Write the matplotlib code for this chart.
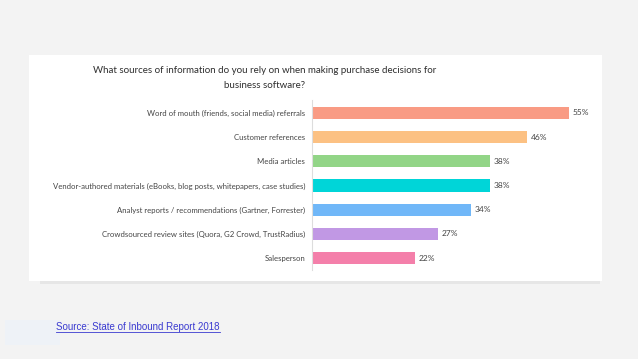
import matplotlib
matplotlib.use("Agg")
import matplotlib.pyplot as plt
from matplotlib.patches import Rectangle

categories = [
    "Word of mouth (friends, social media) referrals",
    "Customer references",
    "Media articles",
    "Vendor-authored materials (eBooks, blog posts, whitepapers, case studies)",
    "Analyst reports / recommendations (Gartner, Forrester)",
    "Crowdsourced review sites (Quora, G2 Crowd, TrustRadius)",
    "Salesperson",
]
values = [55, 46, 38, 38, 34, 27, 22]
value_labels = ["55%", "46%", "38%", "38%", "34%", "27%", "22%"]
colors = ["#f99b84", "#fcc183", "#92d587", "#00d5d8", "#70b7f8", "#c198e4", "#f47faa"]
title = "What sources of information do you rely on when making purchase decisions for\nbusiness software?"
source = "Source: State of Inbound Report 2018"

W, H = 638, 359
fig = plt.figure(figsize=(W / 100, H / 100), dpi=100)
fig.patch.set_facecolor("#f3f3f3")

def fx(px):
    return px / W

def fy(py):
    return 1 - py / H

# white panel with faint shadow
fig.patches.append(Rectangle((fx(40), fy(284)), fx(560), 3 / H, transform=fig.transFigure,
                             facecolor="#e6e6e6", edgecolor="none", zorder=-2))
fig.patches.append(Rectangle((fx(29), fy(281)), fx(573), 226 / H, transform=fig.transFigure,
                             facecolor="white", edgecolor="none", zorder=-1))
# faint box near source
fig.patches.append(Rectangle((fx(5), fy(345)), fx(55), 25 / H, transform=fig.transFigure,
                             facecolor="#eef2f7", edgecolor="none", zorder=-1))

fig.text(fx(265), fy(78), title, ha="center", va="center", fontsize=7.0,
         family="Lato", color="#2e2e2e", linespacing=1.85)

# axes: x from 312 to 600 px; y from 100 to 270 px
px_per_unit = (569 - 312) / 55.0
ax_left, ax_right = 312, 600
ax = fig.add_axes([fx(ax_left), fy(270), fx(ax_right - ax_left), 170 / H])
ax.set_facecolor("none")
ypos = list(range(len(categories)))
ax.barh(ypos, values, height=0.5, color=colors)
ax.set_xlim(0, (ax_right - ax_left) / px_per_unit)
ax.set_ylim(6 + 12 / 24.17, -13 / 24.17)
for y, v, lab in zip(ypos, values, value_labels):
    ax.text(v + 0.8, y, lab, va="center", ha="left", fontsize=6, family="Lato", color="#444444")
ax.set_yticks(ypos)
ax.set_yticklabels(categories, fontsize=5.55, family="Lato", color="#444444")
ax.tick_params(axis="y", length=0, pad=5)
ax.set_xticks([])
for s in ["top", "right", "bottom"]:
    ax.spines[s].set_visible(False)
ax.spines["left"].set_color("#dddddd")
ax.spines["left"].set_linewidth(0.8)

t = fig.text(fx(56), fy(327), source, ha="left", va="center", fontsize=7,
             family="Liberation Sans", color="#3a3ad0")
fig.canvas.draw()
bb = t.get_window_extent()
fig.add_artist(plt.Line2D([bb.x0 / W, bb.x1 / W], [(bb.y0 + 0.5) / H] * 2,
                          transform=fig.transFigure, color="#3a3ad0", linewidth=0.6))

fig.savefig("out.png", dpi=100, facecolor=fig.get_facecolor())
